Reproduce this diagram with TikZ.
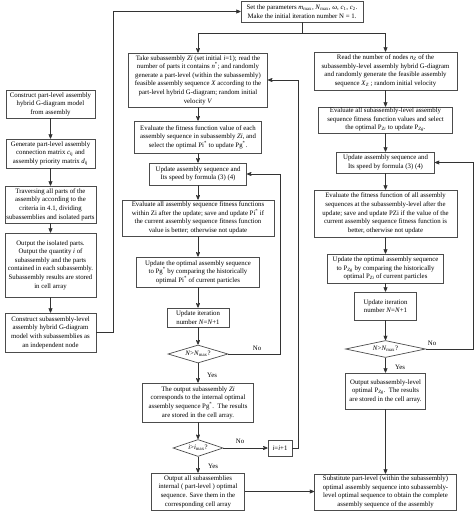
\documentclass[tikz,border=0pt]{standalone}
\usepackage{fontspec}
\setmainfont{Liberation Serif}
\usepackage{tikz}
\usetikzlibrary{shapes.geometric, arrows}
\tikzset{
>=stealth', % small filled arrow heads
box/.style={draw=black!70, line width=0.7pt, align=center, inner sep=1pt,
  font=\fontsize{6.8}{8.6}\selectfont}, % every process box
test/.style={diamond, draw=black!70, line width=0.7pt, inner sep=0pt,
  font=\fontsize{6.8}{8.6}\selectfont}, % the decision nodes
flow/.style={draw=black!80, line width=0.7pt}, % connectors
lbl/.style={font=\fontsize{6.8}{8.6}\selectfont, inner sep=0pt}, % Yes / No
}

\begin{document}
\begin{tikzpicture}[x=1pt, y=-1pt]
    \useasboundingbox (0,0) rectangle (474,513);

    % parameters
    \node[box, minimum width=122, minimum height=21] (top) at (302,11.5)
        {Set the parameters \textit{m}\textsubscript{max}, \textit{N}\textsubscript{max}, \textit{ω}, \textit{c}\textsubscript{1}, \textit{c}\textsubscript{2}.\\Make the initial iteration number N = 1.};

    % left column
    \node[box, minimum width=89, minimum height=28] (L1) at (50.5,104)
        {Construct part-level assembly\\hybrid G-diagram model\\from assembly};
    \node[box, minimum width=89, minimum height=29] (L2) at (50.5,153.5)
        {Generate part-level assembly\\connection matrix \textit{c}\textsubscript{ij} and\\assembly priority matrix \textit{d}\textsubscript{ij}};
    \node[box, minimum width=91, minimum height=37] (L3) at (50.5,204.5)
        {Traversing all parts of the\\assembly according to the\\criteria in 4.1, dividing\\subassemblies and isolated parts};
    \node[box, minimum width=91, minimum height=64] (L4) at (50.5,265)
        {Output the isolated parts.\\Output the quantity \textit{i} of\\subassembly and the parts\\contained in each subassembly.\\Subassembly results are stored\\in cell array};
    \node[box, minimum width=91, minimum height=39] (L5) at (50.5,332.5)
        {Construct subassembly-level\\assembly hybrid G-diagram\\model with subassemblies as\\an independent node};

    % middle column
    \node[box, minimum width=139, minimum height=54] (M1) at (198,80)
        {Take subassembly \textit{Zi} (set initial \textit{i}=1); read the\\number of parts it contains \textit{n}\textsuperscript{*}; and randomly\\generate a part-level (within the subassembly)\\feasible assembly sequence \textit{X} according to the\\part-level hybrid G-diagram; random initial\\velocity \textit{V}};
    \node[box, minimum width=127, minimum height=32] (M2) at (198,137)
        {Evaluate the fitness function value of each\\assembly sequence in subassembly \textit{Zi}, and\\select the optimal Pi\textsuperscript{*} to update Pg\textsuperscript{*}.};
    \node[box, minimum width=97, minimum height=22] (M3) at (198,174)
        {Update assembly sequence and\\Its speed by formula (3) (4)};
    \node[box, minimum width=152, minimum height=36] (M4) at (198,218)
        {Evaluate all assembly sequence fitness functions\\within Zi after the update; save and update Pi\textsuperscript{*} if\\the current assembly sequence fitness function\\value is better; otherwise not update};
    \node[box, minimum width=123, minimum height=30] (M5) at (198,272)
        {Update the optimal assembly sequence\\to Pg\textsuperscript{*} by comparing the historically\\optimal Pi\textsuperscript{*} of current particles};
    \node[box, minimum width=62, minimum height=19] (M6) at (198,317.5)
        {Update iteration\\number \textit{N}=\textit{N}+1};
    \node[test, aspect=3.3, minimum width=60, minimum height=18] (M7) at (198,354)
        {\textit{N}>\textit{N}\textsubscript{max}?};
    \node[box, minimum width=111, minimum height=39] (M8) at (198,402.5)
        {The output subassembly \textit{Zi}\\corresponds to the internal optimal\\assembly sequence Pg\textsuperscript{*}.\ \ The results\\are stored in the cell array.};
    \node[test, aspect=2.9, minimum width=50, minimum height=17] (M9) at (198,448)
        {\textit{i}>\textit{i}\textsubscript{max}?};
    \node[box, minimum width=93, minimum height=37] (M10) at (198,491.5)
        {Output all subassemblies\\internal ( part-level ) optimal\\sequence. Save them in the\\corresponding cell array};
    \node[box, minimum width=24, minimum height=16] (inc) at (280,448)
        {\textit{i}=\textit{i}+1};

    % right column
    \node[box, minimum width=143, minimum height=38] (R1) at (385.5,71)
        {Read the number of nodes \textit{n}\textsubscript{\textit{Z}} of the\\subassembly-level assembly hybrid G-diagram\\and randomly generate the feasible assembly\\sequence \textit{X}\textsubscript{\textit{Z}} ; random initial velocity};
    \node[box, minimum width=134, minimum height=26] (R2) at (385.5,120)
        {Evaluate all subassembly-level assembly\\sequence fitness function values and select\\the optimal P\textsubscript{\textit{Zi}} to update P\textsubscript{\textit{Zg}}.};
    \node[box, minimum width=98, minimum height=21] (R3) at (385.5,162.5)
        {Update assembly sequence and\\Its speed by formula (3) (4)};
    \node[box, minimum width=143, minimum height=47] (R4) at (385.5,213.5)
        {Evaluate the fitness function of all assembly\\sequences at the subassembly-level after the\\update; save and update PZi if the value of the\\current assembly sequence fitness function is\\better, otherwise not update};
    \node[box, minimum width=116, minimum height=29] (R5) at (385.5,268.5)
        {Update the optimal assembly sequence\\to P\textsubscript{\textit{Zg}} by comparing the historically\\optimal P\textsubscript{\textit{Zi}} of current particles};
    \node[box, minimum width=62, minimum height=28] (R6) at (385.5,306)
        {Update iteration\\number \textit{N}=\textit{N}+1};
    \node[test, aspect=4.7, minimum width=80, minimum height=17] (R7) at (385.5,349)
        {\textit{N}>\textit{N}\textsubscript{max}?};
    \node[box, minimum width=80, minimum height=36] (R8) at (385.5,391)
        {Output subassembly-level\\optimal P\textsubscript{\textit{Zg}}.\ \ The results\\are stored in the cell array.};
    \node[box, minimum width=142, minimum height=36] (R9) at (385.5,492)
        {Substitute part-level (within the subassembly)\\optimal assembly sequence into subassembly-\\level optimal sequence to obtain the complete\\assembly sequence of the assembly};

    % Yes / No labels
    \node[lbl] (noM7) at (257,348) {No};
    \node[lbl] (yesM7) at (212,375) {Yes};
    \node[lbl] (noM9) at (240,441) {No};
    \node[lbl] (yesM9) at (213,466) {Yes};
    \node[lbl] (noR7) at (432,343) {No};
    \node[lbl] (yesR7) at (400,367) {Yes};

    % bends of the loops
    \coordinate (fork) at (302,33);
    \coordinate (loopL) at (113,11.5);
    \coordinate (loopN) at (280,174);
    \coordinate (loopI) at (298,80);
    \coordinate (loopR) at (473,162.5);

    \draw[flow] (top.south) -- (fork);
    \draw[flow, ->] (fork) -| (M1.north);
    \draw[flow, ->] (fork) -| (R1.north);

    \draw[flow, ->] (L1) -- (L2);
    \draw[flow, ->] (L2) -- (L3);
    \draw[flow, ->] (L3) -- (L4);
    \draw[flow, ->] (L4) -- (L5);
    \draw[flow, ->] (L5.east) -| (loopL) -- (top.west);

    \draw[flow, ->] (M1) -- (M2);
    \draw[flow, ->] (M2) -- (M3);
    \draw[flow, ->] (M3) -- (M4);
    \draw[flow, ->] (M4) -- (M5);
    \draw[flow, ->] (M5) -- (M6);
    \draw[flow, ->] (M6) -- (M7);
    \draw[flow, ->] (M7) -- (M8);
    \draw[flow, ->] (M8) -- (M9);
    \draw[flow, ->] (M9) -- (M10);
    \draw[flow, ->] (M7.east) -| (loopN) -- (M3.east);
    \draw[flow, ->] (M9.east) -- (inc.west);
    \draw[flow, ->] (inc.east) -| (loopI) -- (M1.east);
    \draw[flow, ->] (M10.east) -- (M10.east -| R9.west);

    \draw[flow, ->] (R1) -- (R2);
    \draw[flow, ->] (R2) -- (R3);
    \draw[flow, ->] (R3) -- (R4);
    \draw[flow, ->] (R4) -- (R5);
    \draw[flow, ->] (R5) -- (R6);
    \draw[flow, ->] (R6) -- (R7);
    \draw[flow, ->] (R7) -- (R8);
    \draw[flow, ->] (R8) -- (R9);
    \draw[flow, ->] (R7.east) -| (loopR) -- (R3.east);
\end{tikzpicture}
\end{document}
